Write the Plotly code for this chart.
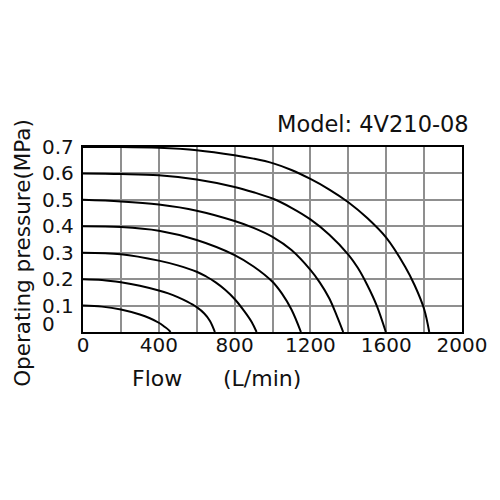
import plotly.graph_objects as go

# flow (L/min) / pressure (MPa), one curve per supply pressure
flow_01 = [0, 100, 200, 300, 350, 400, 430, 450, 462]
pres_01 = [0.1, 0.096, 0.085, 0.066, 0.053, 0.035, 0.02, 0.009, 0]

flow_02 = [0, 100, 200, 300, 400, 450, 500, 550, 600, 640, 670, 696]
pres_02 = [0.2, 0.197, 0.188, 0.175, 0.157, 0.146, 0.132, 0.115, 0.094, 0.07, 0.042, 0]

flow_03 = [0, 200, 400, 500, 600, 650, 700, 750, 800, 850, 890, 916]
pres_03 = [0.3, 0.294, 0.27, 0.252, 0.228, 0.21, 0.188, 0.16, 0.125, 0.08, 0.038, 0]

flow_04 = [0, 200, 400, 600, 800, 900, 1000, 1050, 1100, 1150]
pres_04 = [0.4, 0.397, 0.383, 0.348, 0.291, 0.248, 0.19, 0.145, 0.085, 0]

flow_05 = [0, 200, 400, 600, 800, 900, 1000, 1100, 1200, 1250, 1300, 1340, 1373]
pres_05 = [0.5, 0.494, 0.482, 0.459, 0.42, 0.394, 0.36, 0.31, 0.235, 0.187, 0.127, 0.06, 0]

flow_06 = [0, 200, 400, 600, 800, 900, 1000, 1100, 1200, 1300, 1400, 1450, 1500, 1550, 1598]
pres_06 = [0.6, 0.598, 0.593, 0.577, 0.549, 0.529, 0.505, 0.47, 0.426, 0.368, 0.293, 0.243, 0.178, 0.1, 0]

flow_07 = [0, 200, 400, 600, 800, 900, 1000, 1100, 1200, 1300, 1400, 1500, 1600, 1700, 1750, 1800, 1827]
pres_07 = [0.7, 0.7, 0.697, 0.688, 0.669, 0.656, 0.639, 0.613, 0.579, 0.539, 0.491, 0.431, 0.357, 0.247, 0.177, 0.087, 0]

curves = [(flow_01, pres_01), (flow_02, pres_02), (flow_03, pres_03), (flow_04, pres_04),
          (flow_05, pres_05), (flow_06, pres_06), (flow_07, pres_07)]

x_ticks = [0, 400, 800, 1200, 1600, 2000]
y_ticks = [0, 0.1, 0.2, 0.3, 0.4, 0.5, 0.6, 0.7]
y_tick_text = ["0", "0.1", "0.2", "0.3", "0.4", "0.5", "0.6", "0.7"]

FONT = "DejaVu Sans"

fig = go.Figure()
for q, p in curves:
    fig.add_trace(go.Scatter(x=q, y=p, mode="lines",
                             line=dict(color="black", width=2, shape="spline", smoothing=1),
                             showlegend=False, hoverinfo="skip"))

grid_x = list(range(0, 2001, 200))
fig.update_xaxes(range=[0, 2000], tickvals=grid_x,
                 ticktext=[str(v) if v in x_ticks else "" for v in grid_x],
                 showgrid=True, gridcolor="#8f8f8f", gridwidth=1.5, zeroline=False,
                 showline=True, linecolor="black", linewidth=2, mirror=True, ticks="",
                 ticklabelstandoff=-6,
                 tickfont=dict(family=FONT, size=20, color="#111"))
fig.update_yaxes(range=[0, 0.7], tickvals=y_ticks, showticklabels=False,
                 showgrid=True, gridcolor="#8f8f8f", gridwidth=1.5, zeroline=False,
                 showline=True, linecolor="black", linewidth=2, mirror=True, ticks="")

# y tick labels are left aligned in the original, and "0" sits a little higher
for v, t in zip(y_ticks, y_tick_text):
    fig.add_annotation(x=-0.11, xref="paper", y=v, yref="y", text=t, showarrow=False,
                       xanchor="left", yanchor="middle", yshift=8 if v == 0 else 0,
                       height=18, borderpad=0,
                       font=dict(family=FONT, size=20, color="#111"))

fig.add_annotation(x=1.023, xref="paper", y=1.125, yref="paper", text="Model: 4V210-08",
                   showarrow=False, xanchor="right", yanchor="middle",
                   font=dict(family=FONT, size=22.5, color="#111"))
fig.add_annotation(x=0.124, xref="paper", y=-0.25, yref="paper", text="Flow",
                   showarrow=False, xanchor="left", yanchor="middle",
                   font=dict(family=FONT, size=22, color="#111"))
fig.add_annotation(x=0.3645, xref="paper", y=-0.25, yref="paper", text="(L/min)",
                   showarrow=False, xanchor="left", yanchor="middle",
                   font=dict(family=FONT, size=22, color="#111"))
fig.add_annotation(x=-0.16, xref="paper", y=0.43, yref="paper", text="Operating pressure(MPa)",
                   showarrow=False, textangle=-90, xanchor="center", yanchor="middle",
                   font=dict(family=FONT, size=21.5, color="#111"))

# page body has an 8px margin, so the figure is 492 wide/high
fig.update_layout(width=492, height=492, margin=dict(l=75, r=38, t=139, b=168),
                  plot_bgcolor="white", paper_bgcolor="white")

fig.write_html("out.html")
